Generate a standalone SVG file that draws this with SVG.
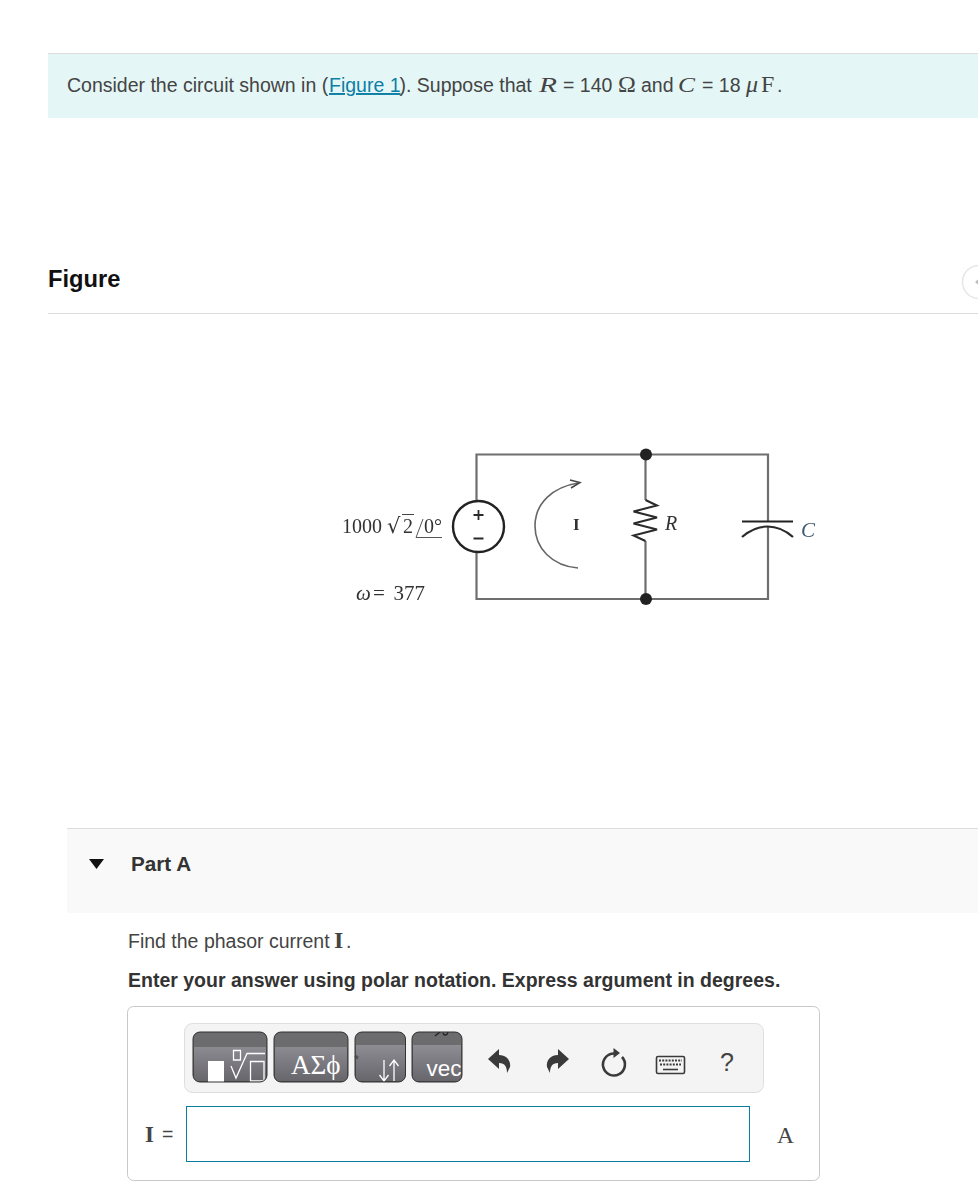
<svg xmlns="http://www.w3.org/2000/svg" width="978" height="1188" viewBox="0 0 978 1188">
<style>
.s{font-family:"Liberation Sans",Arial,sans-serif;fill:#444;font-size:19.500px}
.b{font-weight:700}
.m{font-family:"Liberation Serif","Times New Roman",serif;fill:#444;font-size:25px}
.i{font-style:italic}
.c{font-family:"Liberation Serif","Times New Roman",serif;fill:#333;font-size:20px}
.w{fill:none;stroke:#6e6e6e;stroke-width:2.200}
.k{fill:none;stroke:#2b2b2b}
.btnb{fill:url(#g);stroke:#333;stroke-width:1}
.btnh{fill:#6c6b6d}
.wt{fill:#fff;font-family:"Liberation Serif",serif}
.ic{fill:#3a3a3a}
</style>
<defs>
<linearGradient id="g" x1="0" y1="0" x2="0" y2="1"><stop offset="0" stop-color="#9d9ba3"/><stop offset="1" stop-color="#66656a"/></linearGradient>
<filter id="soft" x="-5%" y="-5%" width="110%" height="110%"><feGaussianBlur stdDeviation="0.5"/></filter>
<clipPath id="c1"><rect x="193" y="1032" width="74" height="50" rx="7"/></clipPath>
<clipPath id="c2"><rect x="274" y="1032" width="74" height="50" rx="7"/></clipPath>
<clipPath id="c3"><rect x="355" y="1032" width="50.500" height="50" rx="7"/></clipPath>
<clipPath id="c4"><rect x="412" y="1032" width="50" height="50" rx="7"/></clipPath>
</defs>
<rect width="978" height="1188" fill="#fff"/>

<g id="intro">
<rect x="48" y="54" width="930" height="64" fill="#e5f6f6"/>
<path d="M48 53.500H978" stroke="#dcdcdc"/>
<text class="s" x="67" y="92">Consider the circuit shown in (</text>
<text class="s" x="329" y="92" style="fill:#0d7fa6" text-decoration="underline">Figure 1</text>
<text class="s" x="399.500" y="92">). Suppose that</text>
<text class="m i" x="539" y="92" style="font-size:22px" textLength="18" lengthAdjust="spacingAndGlyphs">R</text>
<text class="s" x="563" y="92">= 140</text>
<text class="m" x="618" y="92" style="font-size:24px">Ω</text>
<text class="s" x="641" y="92">and</text>
<text class="m i" x="678" y="92" style="font-size:22px" textLength="17" lengthAdjust="spacingAndGlyphs">C</text>
<text class="s" x="702" y="92">= 18</text>
<text class="m i" x="746" y="92" style="font-size:24px">μ</text>
<text class="m" x="761" y="92" style="font-size:24px">F</text>
<text class="s" x="777" y="92">.</text>
</g>

<g id="figure-header">
<text class="s b" x="48" y="287" style="fill:#111;font-size:23.700px">Figure</text>
<path d="M48 313.500H978" stroke="#dcdcdc"/>
<circle cx="979" cy="282" r="16.500" fill="#fff" stroke="#e6e6e6" stroke-width="1.500"/>
<path d="M975 282L978 279.500V284.500Z" fill="#bbb"/>
</g>

<g filter="url(#soft)">
<g id="connectors">
<path class="w" d="M476.500 501V454.500H768V521.500M768 527V599H476.500V552"/>
<path class="w" d="M645.500 454.500V500M645.500 541V599"/>
<path d="M578 568C552 566 535 548 535 526C535 503 553 487 578 483" fill="none" stroke="#666" stroke-width="1.600"/>
<path d="M570 480L580 482.500L571 488" fill="none" stroke="#444" stroke-width="1.500"/>
</g>
<g id="source">
<circle cx="478.500" cy="526.500" r="25.500" fill="#fff" stroke="#222" stroke-width="2.400"/>
<path class="k" stroke-width="1.800" d="M473.500 515H483.500M478.500 510V520M473.500 538.500H483.500"/>
<text class="c" x="342" y="533">1000</text>
<text class="c" x="387" y="533" style="font-family:'DejaVu Sans',sans-serif;font-size:21px">√</text>
<path d="M402 514.500H414" stroke="#444" stroke-width="1"/>
<text class="c" x="403" y="533">2</text>
<path d="M416 537.500L423 519M416 537.500H442" fill="none" stroke="#555" stroke-width="1"/>
<text class="c" x="424" y="533">0°</text>
<text class="c i" x="356" y="600" style="font-size:21px">ω</text>
<text class="c" x="373" y="600" style="font-size:21px">=</text>
<text class="c" x="393.500" y="600" style="font-size:21px">377</text>
</g>
<g id="current"><text class="c b" x="573" y="530" style="font-size:17px">I</text></g>
<g id="node-top"><circle cx="646" cy="454.500" r="6" fill="#222"/></g>
<g id="node-bottom"><circle cx="646" cy="599" r="6" fill="#222"/></g>
<g id="resistor">
<path class="k" stroke-width="2" d="M645.500 500L657 505.500L633.500 511.500L657 517.500L633.500 523.500L657 529.500L633.500 535.500L645.500 541"/>
<text class="c i" x="665" y="530" style="font-size:20px">R</text>
</g>
<g id="capacitor">
<path d="M742 521.500H793" stroke="#222" stroke-width="2.200"/>
<path d="M742 537C758 523 777 523 793 537" class="k" stroke-width="2.200"/>
<text class="c i" x="801" y="537" style="fill:#3f5a6e;font-size:21px">C</text>
</g>
</g>

<g id="part-a">
<rect x="67" y="829" width="911" height="84" fill="#f9f9f9"/>
<path d="M67 828.500H978" stroke="#dcdcdc"/>
<path d="M89 859H104L96.500 869Z" fill="#111"/>
<text class="s b" x="131" y="871" style="fill:#333;font-size:20.700px">Part A</text>
<text class="s" x="128" y="948">Find the phasor current</text>
<text class="m b" x="334" y="948" style="font-size:24px">I</text>
<text class="s" x="346" y="948">.</text>
<text class="s b" x="128" y="987" style="fill:#333;font-size:19.500px">Enter your answer using polar notation. Express argument in degrees.</text>
</g>

<g id="answer-box">
<rect x="127.500" y="1006.500" width="692" height="174" rx="6" fill="#fff" stroke="#c8c8c8"/>
<rect x="184.500" y="1023.500" width="579" height="69" rx="8" fill="#f4f4f4" stroke="#dedede"/>
</g>

<g id="btn-templates">
<g clip-path="url(#c1)"><rect class="btnb" x="193" y="1032" width="74" height="50"/><rect class="btnh" x="193" y="1032" width="74" height="15"/>
<rect x="208" y="1061" width="16" height="21" fill="#fff"/>
<path d="M233.500 1050.500H240.500V1060H233.500ZM231 1066L236 1078L247 1053.500H265M250.500 1061.500H264V1081H250.500Z" fill="none" stroke="#fff" stroke-width="1.300"/></g>
<rect x="193" y="1032" width="74" height="50" rx="7" fill="none" stroke="#333"/>
</g>
<g id="btn-symbols">
<g clip-path="url(#c2)"><rect class="btnb" x="274" y="1032" width="74" height="50"/><rect class="btnh" x="274" y="1032" width="74" height="15"/>
<text class="wt" x="291" y="1074" style="font-size:27px">ΑΣϕ</text></g>
<rect x="274" y="1032" width="74" height="50" rx="7" fill="none" stroke="#333"/>
</g>
<g id="btn-arrows">
<g clip-path="url(#c3)"><rect class="btnb" x="355" y="1032" width="50.500" height="50"/><rect class="btnh" x="355" y="1032" width="50.500" height="13"/>
<path d="M384 1060V1081M379.500 1075L384 1081L388.500 1075M394 1081V1060M389.500 1066L394 1060L398.500 1066" fill="none" stroke="#fff" stroke-width="1.300"/></g>
<rect x="355" y="1032" width="50.500" height="50" rx="7" fill="none" stroke="#333"/>
<text x="354" y="1064" style="font-family:'Liberation Sans',sans-serif;font-size:13px;fill:#444">*</text>
</g>
<g id="btn-vec">
<g clip-path="url(#c4)"><rect class="btnb" x="412" y="1032" width="50" height="50"/><rect class="btnh" x="412" y="1032" width="50" height="13"/>
<path d="M435 1036L440 1032M443 1033C444 1036 447 1036 448 1032" fill="none" stroke="#222" stroke-width="1.300"/>
<text x="426.500" y="1076" style="font-family:'Liberation Sans',sans-serif;font-size:22.500px;fill:#fff">vec</text></g>
<rect x="412" y="1032" width="50" height="50" rx="7" fill="none" stroke="#333"/>
</g>

<g id="undo"><path class="ic" d="M488 1059L499 1049V1055C507 1055 511 1061 510 1067L507 1073C507 1067 505 1063 499 1063V1069Z"/></g>
<g id="redo"><path class="ic" d="M569 1059L558 1049V1055C550 1055 546 1061 547 1067L550 1073C550 1067 552 1063 558 1063V1069Z"/></g>
<g id="reset">
<path d="M614 1053.500A11 11 0 1 0 622 1057" fill="none" stroke="#3a3a3a" stroke-width="2.600"/>
<path class="ic" d="M613.500 1048L620 1053L613.500 1058Z"/>
</g>
<g id="keyboard">
<rect x="656.500" y="1056.500" width="28" height="17" rx="1.500" fill="#f4f4f4" stroke="#3a3a3a" stroke-width="1.600"/>
<path d="M659 1060.500H682M660 1064.500H681" stroke="#3a3a3a" stroke-width="2" stroke-dasharray="2 1.200" fill="none"/>
<path d="M663 1069.500H678" stroke="#3a3a3a" stroke-width="1.600"/>
</g>
<g id="help"><text class="s" x="720" y="1071" style="font-size:25px">?</text></g>

<g id="answer-input">
<text class="m b" x="145" y="1142" style="font-size:23px">I</text>
<text class="s" x="162" y="1141">=</text>
<rect x="186.500" y="1106.500" width="563" height="55" fill="#fff" stroke="#0a7c9e"/>
<text class="m" x="777" y="1142.500" style="font-size:23.500px">A</text>
</g>
</svg>
